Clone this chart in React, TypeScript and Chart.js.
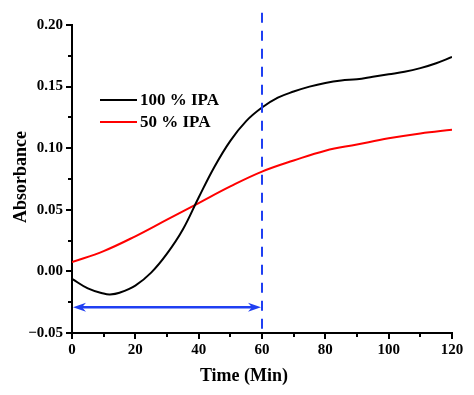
import React, { useEffect, useRef } from "react";
import { Chart, registerables } from "chart.js";

Chart.register(...registerables);

// ---- data ----
const TIME_100 = [0, 5, 10, 12, 15, 20, 25, 30, 35, 40, 45, 50, 55, 60, 65, 70, 75, 80, 85, 90, 95, 100, 105, 110, 115, 120];
const ABS_100 = [-0.006, -0.0138, -0.018, -0.0187, -0.0173, -0.0115, -0.001, 0.0144, 0.034, 0.060, 0.085, 0.106, 0.122, 0.133, 0.141, 0.146, 0.150, 0.153, 0.155, 0.156, 0.158, 0.160, 0.162, 0.165, 0.169, 0.174];
const TIME_50 = [0, 10, 20, 30, 40, 50, 60, 70, 80, 90, 100, 110, 120];
const ABS_50 = [0.0075, 0.0165, 0.0285, 0.042, 0.0555, 0.069, 0.081, 0.090, 0.098, 0.103, 0.108, 0.112, 0.115];
const SERIES_LABELS = ["100 % IPA", "50 % IPA"];
const SERIES_COLORS = ["#000000", "#ff0000"];

const X_MAJOR = [0, 20, 40, 60, 80, 100, 120];
const X_MINOR = [10, 30, 50, 70, 90, 110];
const Y_MAJOR = [-0.05, 0, 0.05, 0.1, 0.15, 0.2];
const Y_MINOR = [-0.025, 0.025, 0.075, 0.125, 0.175];

const MARK_TIME = 60;
const MARK_TOP = 0.21;
const ARROW_Y = -0.029;
const ARROW_FROM = 0;
const ARROW_TO = 60;

const X_TITLE = "Time (Min)";
const Y_TITLE = "Absorbance";

const FONT = "'Liberation Serif', 'Times New Roman', serif";
const BLUE = "#1f3ff2";

const decorPlugin = {
  id: "decor",
  afterDraw(chart: any) {
    const ctx = chart.ctx as CanvasRenderingContext2D;
    const xs = chart.scales.x;
    const ys = chart.scales.y;
    const area = chart.chartArea;
    ctx.save();

    // ticks
    ctx.strokeStyle = "#000";
    ctx.lineWidth = 2;
    const xTick = (v: number, len: number) => {
      const px = Math.round(xs.getPixelForValue(v));
      ctx.beginPath();
      ctx.moveTo(px, area.bottom);
      ctx.lineTo(px, area.bottom + len);
      ctx.stroke();
    };
    const yTick = (v: number, len: number) => {
      const py = Math.round(ys.getPixelForValue(v));
      ctx.beginPath();
      ctx.moveTo(area.left, py);
      ctx.lineTo(area.left - len, py);
      ctx.stroke();
    };
    X_MAJOR.forEach((v) => xTick(v, 6));
    X_MINOR.forEach((v) => xTick(v, 4));
    Y_MAJOR.forEach((v) => yTick(v, 6));
    Y_MINOR.forEach((v) => yTick(v, 4));

    // dashed vertical line
    const vx = xs.getPixelForValue(MARK_TIME);
    ctx.strokeStyle = BLUE;
    ctx.lineWidth = 2;
    ctx.setLineDash([10, 8]);
    ctx.beginPath();
    ctx.moveTo(vx, ys.getPixelForValue(MARK_TOP));
    ctx.lineTo(vx, area.bottom);
    ctx.stroke();
    ctx.setLineDash([]);

    // double arrow
    const ay = ys.getPixelForValue(ARROW_Y);
    const ax0 = xs.getPixelForValue(ARROW_FROM);
    const ax1 = xs.getPixelForValue(ARROW_TO);
    ctx.lineWidth = 2.5;
    ctx.beginPath();
    ctx.moveTo(ax0 + 6, ay);
    ctx.lineTo(ax1 - 6, ay);
    ctx.stroke();
    ctx.fillStyle = BLUE;
    const head = (tipX: number, dir: number) => {
      ctx.beginPath();
      ctx.moveTo(tipX, ay);
      ctx.lineTo(tipX + dir * 13, ay - 4.5);
      ctx.lineTo(tipX + dir * 9, ay);
      ctx.lineTo(tipX + dir * 13, ay + 4.5);
      ctx.closePath();
      ctx.fill();
    };
    head(ax0 + 1, 1);
    head(ax1 - 1, -1);

    // legend
    ctx.font = `bold 17px ${FONT}`;
    ctx.textBaseline = "middle";
    ctx.textAlign = "left";
    SERIES_LABELS.forEach((lab, i) => {
      const y = 100 + i * 22;
      ctx.strokeStyle = SERIES_COLORS[i];
      ctx.lineWidth = 2;
      ctx.beginPath();
      ctx.moveTo(100, y);
      ctx.lineTo(137, y);
      ctx.stroke();
      ctx.fillStyle = "#000";
      ctx.fillText(lab, 140, y + 1);
    });

    // axis titles
    ctx.font = `bold 18px ${FONT}`;
    ctx.fillStyle = "#000";
    ctx.textAlign = "center";
    ctx.textBaseline = "middle";
    ctx.fillText(X_TITLE, 244, 376);
    ctx.save();
    ctx.translate(21, (area.top + area.bottom) / 2 - 2);
    ctx.rotate(-Math.PI / 2);
    ctx.fillText(Y_TITLE, 0, 0);
    ctx.restore();

    ctx.restore();
  },
};

export default function App() {
  const ref = useRef<HTMLCanvasElement | null>(null);
  useEffect(() => {
    document.body.style.margin = "0";
    const canvas = ref.current!;
    const chart = new Chart(canvas, {
      type: "line",
      data: {
        datasets: [
          {
            label: SERIES_LABELS[0],
            data: TIME_100.map((t, i) => ({ x: t, y: ABS_100[i] })),
            borderColor: SERIES_COLORS[0],
            borderWidth: 2,
            pointRadius: 0,
            tension: 0.4,
            fill: false,
          },
          {
            label: SERIES_LABELS[1],
            data: TIME_50.map((t, i) => ({ x: t, y: ABS_50[i] })),
            borderColor: SERIES_COLORS[1],
            borderWidth: 2,
            pointRadius: 0,
            tension: 0.4,
            fill: false,
          },
        ],
      },
      options: {
        responsive: false,
        animation: false,
        devicePixelRatio: 1,
        layout: { padding: { top: 25, right: 22, left: 0, bottom: 0 } },
        plugins: { legend: { display: false }, tooltip: { enabled: false } },
        scales: {
          x: {
            type: "linear",
            min: 0,
            max: 120,
            afterFit: (s: any) => {
              s.height = 62;
            },
            afterBuildTicks: (s: any) => {
              s.ticks = X_MAJOR.map((v) => ({ value: v }));
            },
            ticks: {
              font: { family: FONT, size: 15, weight: "bold" },
              color: "#000",
              padding: 8,
              maxRotation: 0,
              autoSkip: false,
            },
            grid: { display: false, drawTicks: false, tickLength: 0 },
            border: { display: true, color: "#000", width: 2 },
          },
          y: {
            type: "linear",
            min: -0.05,
            max: 0.2,
            afterFit: (s: any) => {
              s.width = 72;
            },
            afterBuildTicks: (s: any) => {
              s.ticks = Y_MAJOR.map((v) => ({ value: v }));
            },
            ticks: {
              font: { family: FONT, size: 15, weight: "bold" },
              color: "#000",
              padding: 9,
              autoSkip: false,
              callback: (v: any) => {
                const n = Number(v);
                const s = Math.abs(n).toFixed(2);
                return n < -1e-9 ? "\u2212" + s : s;
              },
            },
            grid: { display: false, drawTicks: false, tickLength: 0 },
            border: { display: true, color: "#000", width: 2 },
          },
        },
      },
      plugins: [decorPlugin],
    } as any);
    return () => chart.destroy();
  }, []);
  return <canvas ref={ref} width={474} height={395} style={{ display: "block", background: "#fff" }} />;
}
